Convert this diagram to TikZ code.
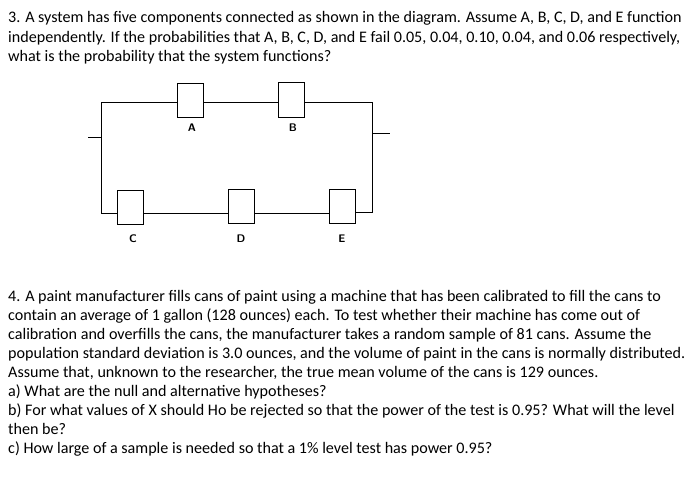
\documentclass[tikz,border=0pt]{standalone}
\usepackage{fontspec}
\setmainfont{Carlito}
\begin{document}
\begin{tikzpicture}[x=1pt,y=-1pt,
  comp/.style={draw,line width=1pt,minimum width=26pt,minimum height=34pt,inner sep=0pt},
  wire/.style={line width=0.9pt},
  lbl/.style={font=\sffamily\bfseries\fontsize{11}{12}\selectfont},
  txt/.style={anchor=base west,inner sep=0pt,font=\fontsize{16.1}{18}\selectfont}]
\useasboundingbox (0,0) rectangle (700,492);
\fill[white] (0,0) rectangle (700,492);
\node[txt] (t1) at (8,23) {3. A system has five components connected as shown in the diagram. Assume A, B, C, D, and E function};
\node[txt] (t2) at (8,42.5) {independently. If the probabilities that A, B, C, D, and E fail 0.05, 0.04, 0.10, 0.04, and 0.06 respectively,};
\node[txt] (t3) at (8,62) {what is the probability that the system functions?};
\node[comp] (A) at (190.5,100.5) {};
\node[comp] (B) at (291.5,100) {};
\node[comp] (C) at (130.5,207) {};
\node[comp] (D) at (241.5,206.5) {};
\node[comp] (E) at (342,206) {};
\node[lbl] at (192,128) {A};
\node[lbl] at (293,128) {B};
\node[lbl] at (133,239) {C};
\node[lbl] at (241,239) {D};
\node[lbl] at (342,239) {E};
\coordinate (tl) at (101,102);
\coordinate (bl) at (101,213);
\coordinate (tr) at (372,102);
\coordinate (br) at (372,212);
\coordinate (ls) at (88,137);
\coordinate (lj) at (101,137);
\coordinate (rs) at (390,133);
\coordinate (rj) at (372,133);
\draw[wire] (A.west |- tl) -- (tl) -- (bl) -- (C.west |- bl);
\draw[wire] (A.east |- tl) -- (B.west |- tl);
\draw[wire] (B.east |- tr) -- (tr) -- (br) -- (E.east |- br);
\draw[wire] (C.east |- bl) -- (D.west |- bl);
\draw[wire] (D.east |- bl) -- (E.west |- bl);
\draw[wire] (ls) -- (lj);
\draw[wire] (rj) -- (rs);
\node[txt] (q1) at (8,301) {4. A paint manufacturer fills cans of paint using a machine that has been calibrated to fill the cans to};
\node[txt] (q2) at (8,320) {contain an average of 1 gallon (128 ounces) each. To test whether their machine has come out of};
\node[txt] (q3) at (8,339) {calibration and overfills the cans, the manufacturer takes a random sample of 81 cans. Assume the};
\node[txt] (q4) at (8,358) {population standard deviation is 3.0 ounces, and the volume of paint in the cans is normally distributed.};
\node[txt] (q5) at (8,377.5) {Assume that, unknown to the researcher, the true mean volume of the cans is 129 ounces.};
\node[txt] (q6) at (8,396) {a) What are the null and alternative hypotheses?};
\node[txt] (q7) at (8,415) {b) For what values of X should Ho be rejected so that the power of the test is 0.95? What will the level};
\node[txt] (q8) at (8,434.5) {then be?};
\node[txt] (q9) at (8,453) {c) How large of a sample is needed so that a 1\% level test has power 0.95?};
\end{tikzpicture}
\end{document}
